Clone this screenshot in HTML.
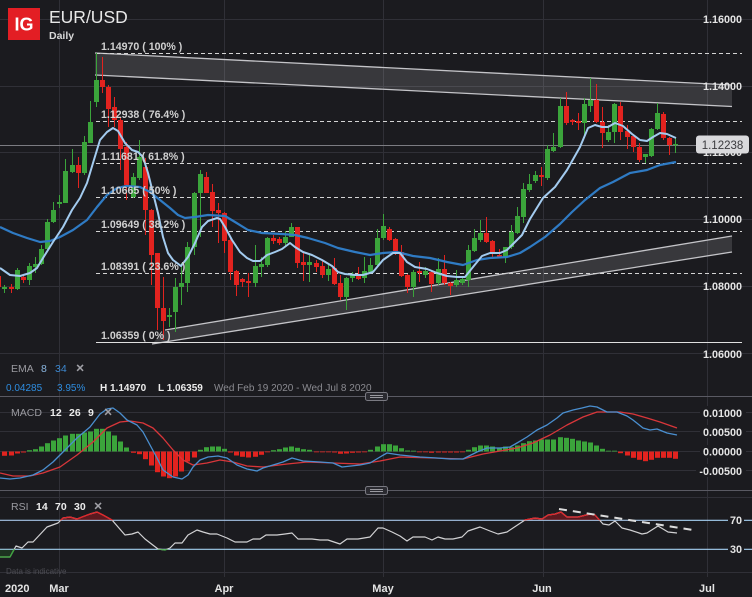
<!DOCTYPE html>
<html><head><meta charset="utf-8">
<style>
html,body{margin:0;padding:0;background:#1b1b1f;overflow:hidden;}
svg{display:block;font-family:"Liberation Sans",sans-serif;}
</style></head>
<body>
<svg id="s" width="752" height="597" viewBox="0 0 752 597" xmlns="http://www.w3.org/2000/svg">
<defs>
<clipPath id="above"><rect x="0" y="480" width="752" height="40.3"/></clipPath>
<clipPath id="below"><rect x="0" y="549.3" width="752" height="30"/></clipPath>
</defs>
<rect width="752" height="597" fill="#1b1b1f"/>
<!-- grid -->
<g stroke="#303037" stroke-width="1">
<line x1="59.5" y1="0" x2="59.5" y2="577"/>
<line x1="224.5" y1="0" x2="224.5" y2="577"/>
<line x1="383.5" y1="0" x2="383.5" y2="577"/>
<line x1="543.5" y1="0" x2="543.5" y2="577"/>
<line x1="707.5" y1="0" x2="707.5" y2="577"/>
<line x1="0" y1="19.5" x2="752" y2="19.5"/>
<line x1="0" y1="86.5" x2="752" y2="86.5"/>
<line x1="0" y1="152.5" x2="752" y2="152.5"/>
<line x1="0" y1="219.5" x2="752" y2="219.5"/>
<line x1="0" y1="286.5" x2="752" y2="286.5"/>
<line x1="0" y1="353.5" x2="752" y2="353.5"/>
<line x1="0" y1="412.5" x2="752" y2="412.5"/>
<line x1="0" y1="431.5" x2="752" y2="431.5"/>
<line x1="0" y1="451.5" x2="752" y2="451.5"/>
<line x1="0" y1="470.5" x2="752" y2="470.5"/>
<line x1="0" y1="497.5" x2="752" y2="497.5"/>
<line x1="0" y1="572.5" x2="752" y2="572.5"/>
</g>
<!-- dividers -->
<line x1="0" y1="396.5" x2="752" y2="396.5" stroke="#5a5a63" stroke-width="1"/>
<line x1="0" y1="490.5" x2="752" y2="490.5" stroke="#5a5a63" stroke-width="1"/>
<g>
<rect x="365.5" y="392.5" width="22" height="8" rx="2" fill="#2a2a30" stroke="#7a7a82"/>
<line x1="370" y1="395.5" x2="383" y2="395.5" stroke="#9a9aa0"/>
<line x1="370" y1="397.5" x2="383" y2="397.5" stroke="#9a9aa0"/>
<rect x="365.5" y="486.5" width="22" height="8" rx="2" fill="#2a2a30" stroke="#7a7a82"/>
<line x1="370" y1="489.5" x2="383" y2="489.5" stroke="#9a9aa0"/>
<line x1="370" y1="491.5" x2="383" y2="491.5" stroke="#9a9aa0"/>
</g>

<!-- channels -->
<polygon points="95,53 732,85 732,106.5 95,75" fill="rgba(255,255,255,0.13)"/>
<line x1="95" y1="53" x2="732" y2="85" stroke="#c4c4c8" stroke-width="1.3"/>
<line x1="95" y1="75" x2="732" y2="106.5" stroke="#c4c4c8" stroke-width="1.3"/>
<polygon points="152,344 732,252 732,236 165,330" fill="rgba(255,255,255,0.13)"/>
<line x1="152" y1="344" x2="732" y2="252" stroke="#c4c4c8" stroke-width="1.3"/>
<line x1="165" y1="330" x2="732" y2="236" stroke="#c4c4c8" stroke-width="1.3"/>

<!-- current price line -->
<line x1="0" y1="145.5" x2="696" y2="145.5" stroke="#7c7c82" stroke-width="1"/>

<!-- fib lines -->
<g stroke="#d4d4d4" stroke-width="1" stroke-dasharray="4,3">
<line x1="96" y1="53.5" x2="742" y2="53.5"/>
<line x1="96" y1="121.5" x2="742" y2="121.5"/>
<line x1="96" y1="163.5" x2="742" y2="163.5"/>
<line x1="96" y1="197.5" x2="742" y2="197.5"/>
<line x1="96" y1="231.5" x2="742" y2="231.5"/>
<line x1="96" y1="273.5" x2="742" y2="273.5"/>
</g>
<line x1="96" y1="342.5" x2="742" y2="342.5" stroke="#e0e0e0" stroke-width="1"/>

<!-- candles -->
<g id="cd"></g>

<!-- EMAs -->
<polyline fill="none" stroke="#2f7bc4" stroke-width="2.2" stroke-linejoin="round" points="0,227 13,233 27,238 40,242 50,241 60,237 73,230 87,220 97,207 107,195 117,188 127,186 140,187 150,192 160,200 170,208 178,215 185,218 195,217 208,215 225,216 235,222 248,230 262,233 282,234 295,235 308,238 325,243 338,248 355,252 370,255 383,253 397,252 413,256 430,258 447,262 463,265 477,260 490,258 507,257 520,253 530,247 545,237 560,224 572,212 585,200 600,188 613,182 630,173 647,170 660,165 676,162"/>
<polyline fill="none" stroke="#a3cbef" stroke-width="2" stroke-linejoin="round" points="0,268 10,275 20,276 30,273 37,268 43,258 53,242 63,227 72,210 80,198 87,183 93,163 100,140 107,132 113,128 118,131 125,143 132,150 138,152 143,157 148,173 153,193 158,213 163,237 168,253 173,260 181,266 188,257 195,243 202,227 208,221 217,218 220,219 225,227 232,240 240,252 247,258 253,261 260,261 267,255 275,252 282,249 290,243 295,247 303,252 312,255 322,260 332,266 338,272 345,274 355,275 363,275 373,272 383,260 393,253 400,253 407,262 415,267 427,269 437,273 447,276 457,277 465,277 473,267 482,256 490,253 500,253 507,250 513,244 522,235 530,219 543,198 555,187 567,170 580,147 588,128 595,125 602,127 608,127 615,123 623,126 632,134 640,140 647,141 653,137 660,133 667,134 676,138"/>

<!-- fib labels -->
<g fill="#d0d0d0" font-size="10.6" font-weight="bold">
<text x="101" y="50">1.14970 ( 100% )</text>
<text x="101" y="118">1.12938 ( 76.4% )</text>
<text x="101" y="160">1.11681 ( 61.8% )</text>
<text x="101" y="194">1.10665 ( 50% )</text>
<text x="101" y="228">1.09649 ( 38.2% )</text>
<text x="101" y="270">1.08391 ( 23.6% )</text>
<text x="101" y="339">1.06359 ( 0% )</text>
</g>

<!-- price axis -->
<g fill="#e4e4e4" font-size="10.8" font-weight="bold" text-anchor="end">
<text x="742" y="23">1.16000</text>
<text x="742" y="90">1.14000</text>
<text x="742" y="156">1.12000</text>
<text x="742" y="223">1.10000</text>
<text x="742" y="290">1.08000</text>
<text x="742" y="358">1.06000</text>
</g>
<rect x="696" y="135.5" width="53" height="18" rx="3" fill="#d9d9dc"/>
<text x="722.5" y="149" fill="#3a3a3e" font-size="11.5" text-anchor="middle">1.12238</text>

<!-- header -->
<rect x="8" y="8" width="32" height="32" fill="#e31e24"/>
<text x="24" y="30.5" fill="#ffffff" font-size="18" font-weight="bold" text-anchor="middle">IG</text>
<text x="49" y="23" fill="#e8e8e8" font-size="17.5">EUR/USD</text>
<text x="49" y="39" fill="#d8d8d8" font-size="10.5" font-weight="bold">Daily</text>

<!-- EMA legend -->
<text x="11" y="372" fill="#9a9aa0" font-size="10.5">EMA</text>
<text x="41" y="372" fill="#8ab6e0" font-size="10.5">8</text>
<text x="55" y="372" fill="#3d88d0" font-size="10.5">34</text>
<text x="76" y="372.5" fill="#a0a0a6" font-size="14" font-weight="bold">×</text>
<text x="6" y="391" fill="#2e8de0" font-size="10">0.04285</text>
<text x="57" y="391" fill="#2e8de0" font-size="10">3.95%</text>
<text x="100" y="391" fill="#ececec" font-size="10" font-weight="bold">H 1.14970</text>
<text x="158" y="391" fill="#ececec" font-size="10" font-weight="bold">L 1.06359</text>
<text x="214" y="391" fill="#8a8a90" font-size="10">Wed Feb 19 2020 - Wed Jul 8 2020</text>

<!-- MACD -->
<g id="hist"></g>
<polyline fill="none" stroke="#d8363a" stroke-width="1.3" stroke-linejoin="round" points="0,473 13,476 30,476 43,473 60,467 77,455 93,442 107,428 120,422 130,421 143,423 153,428 163,438 173,450 183,460 193,465 207,463 220,460 233,462 247,466 263,467 287,464 307,462 333,463 360,464 380,461 400,457 433,458 463,459 483,454 500,451 517,448 533,443 550,435 567,425 583,417 597,412 610,412 620,412 633,414 647,418 660,422 677,428"/>
<polyline fill="none" stroke="#4a8fd0" stroke-width="1.3" stroke-linejoin="round" points="0,478 10,479 20,478 33,475 43,470 53,462 63,452 77,438 90,427 100,414 107,409 113,408 120,413 127,420 137,425 143,432 150,445 157,458 163,470 173,477 182,479 188,475 193,467 200,460 208,457 218,456 227,458 237,465 247,469 257,471 263,468 273,465 283,462 292,458 303,461 320,462 333,463 342,467 360,465 370,463 380,457 387,453 400,455 420,457 437,458 450,459 463,459 477,452 487,448 500,448 510,447 517,443 527,437 537,430 547,425 557,418 563,413 573,410 582,408 590,406 597,407 607,412 617,412 627,416 633,420 643,428 650,430 657,429 667,433 677,435"/>
<text x="11" y="416" fill="#9a9aa0" font-size="10.5">MACD</text>
<text x="50" y="416" fill="#ececec" font-size="10.5" font-weight="bold">12</text>
<text x="69" y="416" fill="#ececec" font-size="10.5" font-weight="bold">26</text>
<text x="88" y="416" fill="#ececec" font-size="10.5" font-weight="bold">9</text>
<text x="104" y="416.5" fill="#a0a0a6" font-size="14" font-weight="bold">×</text>
<g fill="#1b1b1f">
<rect x="700" y="406" width="46" height="13"/>
<rect x="700" y="425" width="46" height="13"/>
<rect x="700" y="445" width="46" height="13"/>
<rect x="696" y="464" width="50" height="13"/>
</g>
<g fill="#e4e4e4" font-size="10.8" font-weight="bold" text-anchor="end">
<text x="742" y="417">0.01000</text>
<text x="742" y="436">0.00500</text>
<text x="742" y="455.5">0.00000</text>
<text x="742" y="475">-0.00500</text>
</g>

<!-- RSI -->
<line x1="0" y1="520.3" x2="752" y2="520.3" stroke="#a6d1f3" stroke-width="1.2"/>
<line x1="0" y1="549.3" x2="752" y2="549.3" stroke="#a6d1f3" stroke-width="1.2"/>
<polygon clip-path="url(#above)" fill="rgba(170,25,30,0.45)" points="0,557 10,557 16,546 22,548 28,542 33,542 47,527 58,523 63,518 70,517 77,519 82,517 90,514 97,512 103,515 112,520 125,535 132,534 138,532 145,539 158,549 165,550 170,548 175,543 182,543 188,535 197,530 203,532 210,534 217,534 227,538 235,542 247,542 253,539 260,539 266,535 277,535 285,534 292,533 298,539 312,539 320,540 328,540 340,544 347,539 358,539 370,537 378,528 383,528 392,532 400,536 407,541 413,537 425,537 432,540 438,537 445,539 453,539 462,537 468,531 480,527 490,531 498,534 507,532 525,520 535,518 542,519 548,515 555,514 561,512 567,517 578,517 590,514 595,515 603,524 609,525 615,521 622,528 630,530 642,534 647,533 658,526 668,532 677,533 677,520.3 0,520.3"/>
<polygon clip-path="url(#below)" fill="rgba(40,150,40,0.18)" points="0,557 10,557 16,546 22,548 28,542 33,542 47,527 58,523 63,518 70,517 77,519 82,517 90,514 97,512 103,515 112,520 125,535 132,534 138,532 145,539 158,549 165,550 170,548 175,543 182,543 188,535 197,530 677,533 677,549.3 0,549.3"/>
<polyline fill="none" stroke="#d2d2d4" stroke-width="1.2" stroke-linejoin="round" points="0,557 10,557 16,546 22,548 28,542 33,542 47,527 58,523 63,518 70,517 77,519 82,517 90,514 97,512 103,515 112,520 125,535 132,534 138,532 145,539 158,549 165,550 170,548 175,543 182,543 188,535 197,530 203,532 210,534 217,534 227,538 235,542 247,542 253,539 260,539 266,535 277,535 285,534 292,533 298,539 312,539 320,540 328,540 340,544 347,539 358,539 370,537 378,528 383,528 392,532 400,536 407,541 413,537 425,537 432,540 438,537 445,539 453,539 462,537 468,531 480,527 490,531 498,534 507,532 525,520 535,518 542,519 548,515 555,514 561,512 567,517 578,517 590,514 595,515 603,524 609,525 615,521 622,528 630,530 642,534 647,533 658,526 668,532 677,533"/>
<g clip-path="url(#above)"><polyline fill="none" stroke="#e02428" stroke-width="1.3" stroke-linejoin="round" points="0,557 10,557 16,546 22,548 28,542 33,542 47,527 58,523 63,518 70,517 77,519 82,517 90,514 97,512 103,515 112,520 125,535 500,534 507,532 525,520 535,518 542,519 548,515 555,514 561,512 567,517 578,517 590,514 595,515 603,524 609,525 677,533"/></g>
<g clip-path="url(#below)"><polyline fill="none" stroke="#3aa63a" stroke-width="1.3" stroke-linejoin="round" points="0,557 10,557 16,546 22,548 28,542 33,542 47,527 145,539 158,549 165,550 170,548 175,543 677,540"/></g>
<line x1="559" y1="509" x2="693" y2="530" stroke="#dcdcdc" stroke-width="2" stroke-dasharray="8,6"/>
<text x="11" y="510" fill="#9a9aa0" font-size="10.5">RSI</text>
<text x="36" y="510" fill="#ececec" font-size="10.5" font-weight="bold">14</text>
<text x="55" y="510" fill="#ececec" font-size="10.5" font-weight="bold">70</text>
<text x="74" y="510" fill="#ececec" font-size="10.5" font-weight="bold">30</text>
<text x="94" y="510.5" fill="#a0a0a6" font-size="14" font-weight="bold">×</text>
<rect x="728" y="514" width="16" height="13" fill="#1b1b1f"/>
<rect x="728" y="543" width="16" height="13" fill="#1b1b1f"/>
<g fill="#e4e4e4" font-size="10.8" font-weight="bold" text-anchor="end">
<text x="742" y="524">70</text>
<text x="742" y="553">30</text>
</g>
<text x="6" y="574" fill="#4c4c53" font-size="8">Data is indicative</text>

<!-- x axis -->
<g fill="#e4e4e4" font-size="11" font-weight="bold">
<text x="5" y="592">2020</text>
<text x="59" y="592" text-anchor="middle">Mar</text>
<text x="224" y="592" text-anchor="middle">Apr</text>
<text x="383" y="592" text-anchor="middle">May</text>
<text x="542" y="592" text-anchor="middle">Jun</text>
<text x="707" y="592" text-anchor="middle">Jul</text>
</g>
</svg>
<script>
(function(){
var D=[
[-10,273,292,276,287,0],[-9,285,293,287,289,1],[-8,284,293,287,289,0],[-7,268,290,270,289,1],[-6,274,283,277,280,0],
[-5,263,285,266,280,1],[-4,257,273,264,267,1],[-3,245,265,249,264,1],[-2,219,250,222,249,1],[-1,202,223,210,222,1],
[0,195,208,202,204,1],[1,159,203,171,203,1],[2,149,173,165,172,1],[3,157,188,165,173,0],[4,136,175,142,173,1],
[5,101,143,122,143,1],[6,53,107,80,102,1],[7,57,93,80,87,0],[8,85,127,87,109,0],[9,97,127,107,120,0],
[10,118,170,120,149,0],[11,142,200,147,185,0],[12,173,198,177,197,1],[13,140,180,157,178,1],[14,158,235,167,210,0],
[15,209,285,210,255,0],[16,253,330,253,308,0],[17,277,340,308,321,0],[18,308,327,315,317,1],[19,278,332,287,312,1],
[20,263,305,283,287,1],[21,242,292,247,283,1],[22,192,255,193,247,1],[23,170,237,174,193,1],[24,172,193,177,193,0],
[25,184,227,192,211,0],[26,203,243,210,213,0],[27,212,253,213,241,0],[28,238,280,240,272,0],[29,270,296,271,285,0],
[30,278,287,279,282,0],[31,273,297,281,283,0],[32,245,287,266,283,1],[33,257,277,264,267,1],[34,237,267,238,265,1],
[35,235,244,238,241,0],[36,237,245,239,243,0],[37,231,247,237,243,1],[38,223,237,227,237,1],[39,227,268,227,263,0],
[40,253,281,262,265,0],[41,255,282,262,265,1],[42,260,272,263,267,0],[43,261,278,266,275,0],[44,265,281,269,275,1],
[45,258,285,268,284,0],[46,275,300,283,297,0],[47,277,310,278,297,1],[48,272,282,275,278,1],[49,267,280,276,279,0],
[50,257,283,271,278,1],[51,258,273,265,272,1],[52,229,267,238,265,1],[53,214,240,226,238,1],[54,227,241,229,240,0],
[55,238,255,239,251,0],[56,245,277,252,276,0],[57,274,293,275,287,0],[58,270,297,272,287,1],[59,262,282,271,273,0],
[60,267,278,271,275,1],[61,270,292,272,284,0],[62,258,285,269,283,1],[63,255,285,269,283,0],[64,282,295,283,286,0],
[65,270,287,280,285,1],[66,277,285,279,283,1],[67,245,287,250,280,1],[68,229,252,238,251,1],[69,220,242,233,240,1],
[70,217,243,233,242,0],[71,240,258,241,253,0],[72,249,258,255,257,0],[73,247,263,247,257,1],[74,225,249,232,247,1],
[75,207,234,216,233,1],[76,183,223,189,217,1],[77,174,192,184,190,1],[78,171,183,175,181,1],[79,167,186,175,177,0],
[80,145,180,149,178,1],[81,133,152,147,151,1],[82,98,148,106,147,1],[83,92,125,106,123,0],[84,119,125,120,122,0],
[85,113,130,121,123,0],[86,98,138,104,123,1],[87,78,112,100,106,1],[88,84,123,100,122,0],[89,107,148,122,133,0],
[90,125,142,132,140,1],[91,103,143,104,132,1],[92,102,140,106,132,0],[93,125,149,131,137,0],[94,135,152,136,147,0],
[95,143,162,147,160,0],[96,154,163,154,157,1],[97,128,157,129,156,1],[98,103,130,113,129,1],[99,112,140,114,138,0],
[100,137,155,138,145,0],[101,138,153,144,145,1]];
var G='#3ba43b',R='#e2231f',NS='http://www.w3.org/2000/svg';
function el(n,a,p){var e=document.createElementNS(NS,n);for(var k in a)e.setAttribute(k,a[k]);p.appendChild(e);return e;}
var cd=document.getElementById('cd');
D.forEach(function(d){
  var xi=Math.round(59.3+6.1*d[0]);var col=d[5]?G:R;
  el('line',{x1:xi+0.5,x2:xi+0.5,y1:d[1],y2:d[2],stroke:col,'stroke-width':1},cd);
  el('rect',{x:xi-2,y:d[3],width:5,height:Math.max(d[4]-d[3],1.2),fill:col},cd);
});
var H=[-4.3,-4,-2,-1,1.3,2.3,5,8.3,11,13.3,16,17.7,17.7,19,20,22.7,22.7,20,16,10,4,-1.3,-2.7,-7.7,-14,-20.7,-25,-26.7,-25,-20,-10,-6,1.7,4.3,5,5,2.7,-1,-4,-5.3,-6,-5.3,-3.3,-0.7,1.3,2.3,4,5,3.7,2.3,1.7,-0.7,-0.7,-0.7,-1,-2.3,-2,-1.3,-1,-0.7,1.7,5,7.3,7.3,6,3.3,1,0.3,-0.3,-0.5,-1.3,-1,-1,-1,-1,-0.7,1.7,4.3,6,6,5,3.3,5,4.3,6,8.3,10.3,11,12,12,12,14.3,13.7,12.7,11,10,9,6,2.7,0.5,0.2,-1.7,-4,-6.3,-8.3,-9.7,-8.3,-6.3,-6.3,-6.3,-7.3];
var hg=document.getElementById('hist');var z=451.5;
H.forEach(function(v,i){
  var k=i-9;var xi=Math.round(59.3+6.1*k);
  var h=Math.max(Math.abs(v),0.8);
  el('rect',{x:xi-2,y:v>=0?z-h:z,width:5,height:h,fill:v>=0?G:R},hg);
});
})();
</script>
</body></html>
